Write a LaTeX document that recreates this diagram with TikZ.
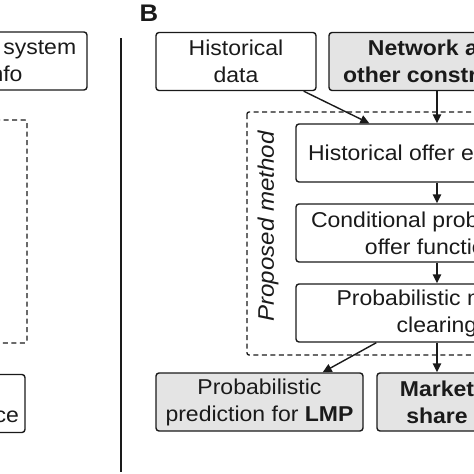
\documentclass[tikz,border=0pt]{standalone}
\usepackage{fontspec}
\setmainfont{Liberation Sans}[FakeStretch=1.07]
\usetikzlibrary{arrows.meta,calc}
\definecolor{ink}{HTML}{1A1A1A}
\definecolor{boxgray}{HTML}{E4E4E4}
\tikzset{
  every node/.style={text=ink},
  boxnode/.style={draw=ink,line width=1.4pt,rounded corners=3pt,align=center,
    minimum height=58pt,inner sep=0pt,font=\fontsize{21.5}{27}\selectfont},
  graybox/.style={boxnode,fill=boxgray},
  dashframe/.style={draw=ink,line width=1.3pt,dash pattern=on 5pt off 3.5pt,rounded corners=2pt},
  conn/.style={draw=ink,line width=1.4pt,-{Triangle[length=9pt,width=8.5pt]}},
}
\begin{document}
\begin{tikzpicture}[x=1pt,y=-1pt]
\useasboundingbox (0,0) rectangle (474,474);
\clip (0,0) rectangle (474,474);
% panel A (cropped)
\node[boxnode,minimum width=166pt] (ainfo) at (4,61) {Power system\\info};
\draw[dashframe] (-100,120) rectangle (27,343);
\node[boxnode,minimum width=164pt] (aout) at (-57,403.5) {Forecast\\of market price};
% divider
\draw[ink,line width=2pt] (121,38) -- (121,472);
% panel B
\node[anchor=base west,inner sep=0pt,font=\fontsize{24}{28}\selectfont\bfseries] (lab) at (139.5,21) {B};
\node[boxnode,minimum width=160pt] (hd) at (236,61.5) {Historical\\data};
\node[graybox,minimum width=216pt,font=\fontsize{21.5}{27}\selectfont\bfseries] (net) at (437,61.5) {Network and\\other constraints};
\draw[dashframe] (247,112) rectangle (620,355);
\node[rotate=90,font=\fontsize{22.5}{26}\selectfont\itshape] (pm) at (268,226.5) {Proposed method};
\node[boxnode,minimum width=282pt] (hoe) at (437,153) {Historical offer estimation};
\node[boxnode,minimum width=282pt] (cpo) at (437,233) {Conditional probability of\\offer functions};
\node[boxnode,minimum width=282pt] (pmc) at (437,313) {Probabilistic market\\clearing};
\node[graybox,minimum width=207pt] (lmp) at (259.5,402) {Probabilistic\\prediction for \textbf{LMP}};
\node[graybox,minimum width=120pt,font=\fontsize{21.5}{27}\selectfont\bfseries] (ms) at (437,402) {Market\\share};
% connectors
\draw[conn] ($(hd.south east)+(-13,0)$) -- ($(hoe.north west)+(74,0)$);
\draw[conn] (net.south) -- (hoe.north);
\draw[conn] (hoe.south) -- (cpo.north);
\draw[conn] (cpo.south) -- (pmc.north);
\draw[conn] ($(pmc.south west)+(81,0)$) -- ($(lmp.north east)+(-41,0)$);
\draw[conn] (pmc.south) -- (ms.north);
\end{tikzpicture}
\end{document}
